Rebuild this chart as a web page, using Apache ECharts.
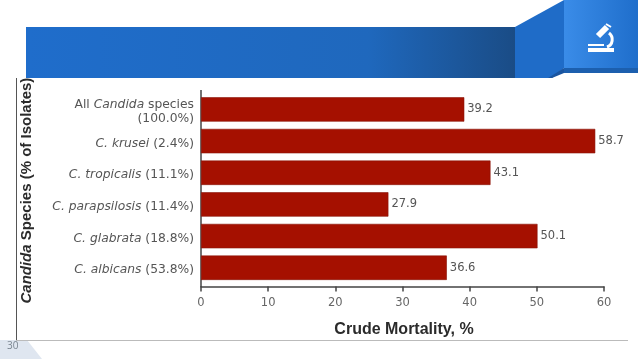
<!DOCTYPE html>
<html><head><meta charset="utf-8">
<style>html,body{margin:0;padding:0;background:#fff}#c{width:638px;height:359px}</style>
<script src="https://cdn.jsdelivr.net/npm/echarts@6/dist/echarts.min.js"></script>
</head><body><div id="c"></div>
<script>
const categories = ['All {i|Candida} species\n(100.0%)','{i|C. krusei} (2.4%)','{i|C. tropicalis} (11.1%)','{i|C. parapsilosis} (11.4%)','{i|C. glabrata} (18.8%)','{i|C. albicans} (53.8%)'];
const mortality = [39.2,58.7,43.1,27.9,50.1,36.6];
const xTicks = {min:0,max:60,interval:10};
const font = '"Liberation Sans", Arial, sans-serif';
const wide = '"DejaVu Sans", sans-serif';
const chart = echarts.init(document.getElementById('c'),null,{renderer:'canvas'});
const grad = (c0,c1,stops)=>new echarts.graphic.LinearGradient(0,0,1,0,stops||[{offset:0,color:c0},{offset:1,color:c1}]);
chart.setOption({
  animation:false,
  backgroundColor:'#fff',
  grid:{left:201,right:34,top:93.6,height:190,containLabel:false},
  xAxis:{type:'value',min:xTicks.min,max:xTicks.max,interval:xTicks.interval,offset:3,
    name:'Crude Mortality, %',nameLocation:'center',nameGap:35,
    nameTextStyle:{fontFamily:font,fontWeight:'bold',fontSize:16,color:'#2b2b2b',padding:[0,0,0,3]},
    axisLine:{show:true,lineStyle:{color:'#444',width:1.5}},
    axisTick:{show:true,length:5,lineStyle:{color:'#444',width:1.5}},
    axisLabel:{fontFamily:wide,fontSize:11.5,color:'#666',margin:10},
    splitLine:{show:false}},
  yAxis:{type:'category',inverse:true,data:categories,
    name:'{i|Candida} Species (% of Isolates)',nameLocation:'center',nameGap:167,nameRotate:90,
    nameTextStyle:{fontFamily:font,fontWeight:'bold',fontSize:15,color:'#2b2b2b',padding:[0,4,0,0],
      rich:{i:{fontFamily:font,fontStyle:'italic',fontWeight:'bold',fontSize:15,color:'#2b2b2b'}}},
    axisLine:{show:false},axisTick:{show:false},
    axisLabel:{fontFamily:wide,fontSize:12.3,color:'#555',margin:7,align:'right',lineHeight:14,padding:[5,0,0,0],
      rich:{i:{fontFamily:wide,fontStyle:'italic',fontSize:12.3,color:'#555',lineHeight:14}}}},
  series:[{type:'bar',data:mortality,barWidth:24.4,
    itemStyle:{color:'#a51000',borderColor:'#8a1408',borderWidth:0.6},
    label:{show:true,position:'right',distance:3,fontFamily:wide,fontSize:11.5,color:'#555',formatter:p=>p.value.toFixed(1)}}],
  graphic:{elements:[
    {type:'rect',z:-1,silent:true,shape:{x:26,y:27,width:489,height:51},style:{fill:grad('','',[{offset:0,color:'#1f6dcb'},{offset:0.7,color:'#1f68bd'},{offset:1,color:'#1a4c86'}])}},
    {type:'polygon',z:-1,silent:true,shape:{points:[[515,27],[564,0],[564,68],[552,78],[515,78]]},style:{fill:'#1f6cc8'}},
    {type:'polygon',z:-1,silent:true,shape:{points:[[564,68],[564,73],[552,78],[548,78]]},style:{fill:'#1a55a0'}},
    {type:'rect',z:-1,silent:true,shape:{x:564,y:0,width:74,height:68},style:{fill:grad('#3a8ce8','#1f6ecb')}},
    {type:'rect',z:-1,silent:true,shape:{x:564,y:68,width:74,height:5},style:{fill:'#1c5fae'}},
    {type:'rect',silent:true,shape:{x:588,y:48,width:26,height:4},style:{fill:'#fff'}},
    {type:'rect',silent:true,shape:{x:588,y:44,width:16,height:2},style:{fill:'#fff'}},
    {type:'line',silent:true,shape:{x1:598,y1:36,x2:607,y2:27},style:{stroke:'#fff',lineWidth:6}},
    {type:'line',silent:true,shape:{x1:606,y1:24,x2:611,y2:27},style:{stroke:'#fff',lineWidth:2}},
    {type:'bezierCurve',silent:true,shape:{x1:609,y1:33,cpx1:614,cpy1:37,cpx2:613,cpy2:45,x2:607,y2:47},style:{stroke:'#fff',lineWidth:3,fill:null}},
    {type:'line',silent:true,shape:{x1:201,y1:90,x2:201,y2:287},style:{stroke:'#444',lineWidth:1.5}},
    {type:'line',silent:true,shape:{x1:16.5,y1:78,x2:16.5,y2:340},style:{stroke:'#555',lineWidth:1}},
    {type:'polygon',z:-1,silent:true,shape:{points:[[0,340],[27,340],[42,359],[0,359]]},style:{fill:'#dfe6f0'}},
    {type:'line',silent:true,shape:{x1:16,y1:340.5,x2:628,y2:340.5},style:{stroke:'#bbb',lineWidth:1}},
    {type:'text',silent:true,style:{x:7,y:341,text:'30',fontFamily:'"Open Sans", sans-serif',fontSize:10,fill:'#7a8590'}}
  ]}
});
</script></body></html>
